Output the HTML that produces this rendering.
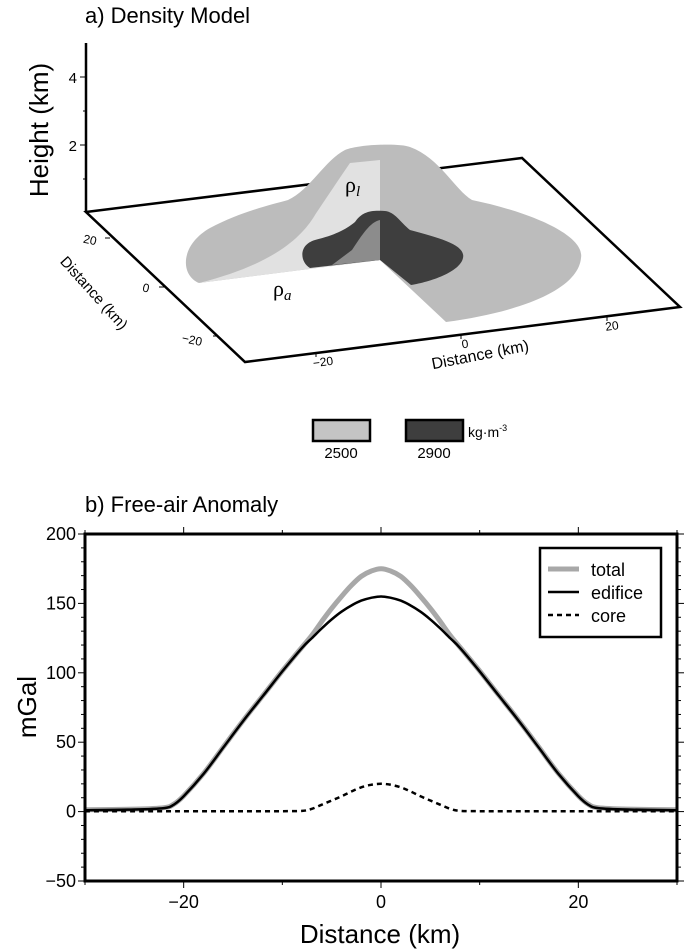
<!DOCTYPE html>
<html><head><meta charset="utf-8"><style>
html,body{margin:0;padding:0;background:#fff;}
svg{display:block;font-family:"Liberation Sans",Arial,sans-serif;}
</style></head>
<body>
<svg id="fig" width="685" height="952" viewBox="0 0 685 952">
  <text x="85" y="23" font-size="22">a) Density Model</text>
  <g>
    <polygon points="86,212 522,158 680,307 245,362" fill="none" stroke="#000" stroke-width="2.5"/>
    <line x1="86" y1="212" x2="86" y2="43" stroke="#000" stroke-width="2.5"/>
    <line x1="80" y1="77" x2="86" y2="77" stroke="#000" stroke-width="1"/>
    <line x1="80" y1="145" x2="86" y2="145" stroke="#000" stroke-width="1"/>
    <line x1="83" y1="111" x2="86" y2="111" stroke="#000" stroke-width="1"/>
    <line x1="83" y1="179" x2="86" y2="179" stroke="#000" stroke-width="1"/>
    <text x="77" y="83" font-size="15" text-anchor="end">4</text>
    <text x="77" y="151" font-size="15" text-anchor="end">2</text>
    <text transform="translate(48,130) rotate(-90)" font-size="26" text-anchor="middle">Height (km)</text>

    <path d="M199,283 C180,275 180,245 210,228 C240,212 270,205 288,200 C310,190 325,160 345,150 C360,144 400,143 410,147 C440,158 455,190 472,200 C530,212 585,235 581,258 C578,290 520,312 446,322 L380,260 L199,283 Z" fill="#bcbcbc"/>
    <path d="M199,283 L380,260 L380,160 L350,163 C335,185 325,200 315,215 C300,240 270,265 199,283 Z" fill="#e1e1e1"/>
    <path d="M310,268 C300,262 298,245 315,240 C335,235 345,230 355,222 C362,212 370,210 385,211 C395,212 400,222 410,230 C440,238 466,245 463,258 C460,272 430,282 411,285 L380,260 Z" fill="#3e3e3e"/>
    <path d="M380,260 L380,220 C370,222 362,235 352,250 L332,265 Z" fill="#8c8c8c"/>
    <text x="345" y="192" font-size="22" font-family="Liberation Serif,serif">ρ<tspan font-size="15" font-style="italic" dy="4">l</tspan></text>
    <text x="273" y="296" font-size="22" font-family="Liberation Serif,serif">ρ<tspan font-size="15" font-style="italic" dy="4">a</tspan></text>

    <line x1="110" y1="238" x2="105" y2="238" stroke="#000"/>
    <line x1="164" y1="287" x2="159" y2="287" stroke="#000"/>
    <line x1="218" y1="336" x2="213" y2="336" stroke="#000"/>
    <text x="90" y="244" font-size="12" text-anchor="middle" transform="rotate(12 90 240)">20</text>
    <text x="146" y="292" font-size="12" text-anchor="middle" transform="rotate(12 146 288)">0</text>
    <text x="192" y="344" font-size="12" text-anchor="middle" transform="rotate(12 192 340)">−20</text>
    <text x="94" y="298" font-size="15" text-anchor="middle" transform="rotate(48 94 293)">Distance (km)</text>

    <line x1="316" y1="352" x2="316" y2="357" stroke="#000"/>
    <line x1="461" y1="334" x2="461" y2="339" stroke="#000"/>
    <line x1="607" y1="316" x2="607" y2="321" stroke="#000"/>
    <text x="323" y="366" font-size="12" text-anchor="middle" transform="rotate(-8 323 362)">−20</text>
    <text x="465" y="348" font-size="12" text-anchor="middle" transform="rotate(-8 465 344)">0</text>
    <text x="612" y="330" font-size="12" text-anchor="middle" transform="rotate(-8 612 326)">20</text>
    <text x="480" y="360" font-size="16" text-anchor="middle" transform="rotate(-11 480 354)">Distance (km)</text>
  </g>
  <g>
    <rect x="313" y="420" width="57" height="21" fill="#c4c4c4" stroke="#000" stroke-width="2.5"/>
    <rect x="406" y="420" width="57" height="21" fill="#3e3e3e" stroke="#000" stroke-width="2.5"/>
    <text x="341" y="458" font-size="15" text-anchor="middle">2500</text>
    <text x="434" y="458" font-size="15" text-anchor="middle">2900</text>
    <text x="468" y="437" font-size="14">kg·m<tspan font-size="9" dy="-6">-3</tspan></text>
  </g>

  <text x="85" y="512" font-size="22">b) Free-air Anomaly</text>
  <g id="chart"></g>
</svg>
<script>
const xs = [-30,-25,-22,-21,-20,-18,-16,-14,-12,-10,-8,-7,-6,-5,-4,-3,-2,-1,0,1,2,3,4,5,6,7,8,10,12,14,16,18,20,21,22,25,30];
const edifice = [1,1.5,2.5,5,11,27,46,65,83,101,118,125,132,138.5,144,148.5,152,154,155,154,152,148.5,144,138.5,132,125,118,101,83,65,46,27,11,5,2.5,1.5,1];
const core = [0.3,0.3,0.3,0.3,0.3,0.3,0.3,0.3,0.3,0.3,0.5,2,5,8,11,14.5,17.5,19.3,20,19.3,17.5,14.5,11,8,5,2,0.5,0.3,0.3,0.3,0.3,0.3,0.3,0.3,0.3,0.3,0.3];
const total = [1.3,1.8,2.8,5.3,11.3,27.3,46.3,65.3,83.3,101.3,118.5,127,137,146.5,155,163,169.5,173.3,175,173.3,169.5,163,155,146.5,137,127,118.5,101.3,83.3,65.3,46.3,27.3,11.3,5.3,2.8,1.8,1.3];
const yTicks = [-50,0,50,100,150,200];
const xTicks = [-20,0,20];
const seriesNames = ['total','edifice','core'];

const NS = 'http://www.w3.org/2000/svg';
const g = document.getElementById('chart');
const L = 85, R = 677, T = 534, B = 881;
const xMin = -30, xMax = 30, yMin = -50, yMax = 200;
function sx(v){ return L + (v - xMin) / (xMax - xMin) * (R - L); }
function sy(v){ return B - (v - yMin) / (yMax - yMin) * (B - T); }
function mk(tag, attrs){ const e = document.createElementNS(NS, tag); for (const k in attrs) e.setAttribute(k, attrs[k]); g.appendChild(e); return e; }
function pathFor(vals){
  const p = xs.map((x,i)=>[sx(x), sy(vals[i])]);
  let d = 'M' + p[0][0].toFixed(1) + ',' + p[0][1].toFixed(1);
  for (let i = 0; i < p.length - 1; i++){
    const p0 = p[Math.max(0,i-1)], p1 = p[i], p2 = p[i+1], p3 = p[Math.min(p.length-1,i+2)];
    const c1x = p1[0] + (p2[0]-p0[0])/6, c1y = p1[1] + (p2[1]-p0[1])/6;
    const c2x = p2[0] - (p3[0]-p1[0])/6, c2y = p2[1] - (p3[1]-p1[1])/6;
    d += ' C' + c1x.toFixed(1)+','+c1y.toFixed(1)+' '+c2x.toFixed(1)+','+c2y.toFixed(1)+' '+p2[0].toFixed(1)+','+p2[1].toFixed(1);
  }
  return d;
}
for (let v = yMin; v <= yMax; v += 10){
  const major = v % 50 === 0;
  const len = major ? 7 : 4;
  mk('line',{x1:L-len,y1:sy(v),x2:L,y2:sy(v),stroke:'#000','stroke-width':1});
  mk('line',{x1:R,y1:sy(v),x2:R+len,y2:sy(v),stroke:'#000','stroke-width':1});
}
for (let v = xMin; v <= xMax; v += 10){
  const major = v % 20 === 0;
  const len = major ? 7 : 4;
  mk('line',{x1:sx(v),y1:B,x2:sx(v),y2:B+len,stroke:'#000','stroke-width':1});
  mk('line',{x1:sx(v),y1:T-len,x2:sx(v),y2:T,stroke:'#000','stroke-width':1});
}
yTicks.forEach(v=>{
  const t = mk('text',{x:L-9,y:sy(v)+6,'font-size':18,'text-anchor':'end'});
  t.textContent = v < 0 ? '\u2212' + Math.abs(v) : String(v);
  
  
});
xTicks.forEach(v=>{
  const t = mk('text',{x:sx(v),y:B+27,'font-size':18,'text-anchor':'middle'});
  t.textContent = v < 0 ? '\u2212' + Math.abs(v) : String(v);
  
  
});
const pt = mk('path',{d:pathFor(total),fill:'none',stroke:'#a8a8a8','stroke-width':5});


const pe = mk('path',{d:pathFor(edifice),fill:'none',stroke:'#000','stroke-width':2.5});


const pc = mk('path',{d:pathFor(core),fill:'none',stroke:'#000','stroke-width':2.5,'stroke-dasharray':'5,4'});


const fr = mk('rect',{x:L,y:T,width:R-L,height:B-T,fill:'none',stroke:'#000','stroke-width':3});


const lg = mk('rect',{x:540,y:548,width:121,height:89,fill:'#fff',stroke:'#000','stroke-width':2.5});


const styles = [{stroke:'#a8a8a8',w:5,dash:''},{stroke:'#000',w:2.5,dash:''},{stroke:'#000',w:2.5,dash:'5,4'}];
seriesNames.forEach((n,i)=>{
  const y = 569 + i*23;
  const l = mk('line',{x1:548,y1:y,x2:579,y2:y,stroke:styles[i].stroke,'stroke-width':styles[i].w});
  if (styles[i].dash) l.setAttribute('stroke-dasharray', styles[i].dash);
  
  
  const t = mk('text',{x:591,y:y+7,'font-size':18});
  t.textContent = n;
  
  
});
const yt = mk('text',{x:0,y:0,'font-size':26,'text-anchor':'middle',transform:'translate(36,707) rotate(-90)'});
yt.textContent = 'mGal';


const xt = mk('text',{x:380,y:943,'font-size':26,'text-anchor':'middle'});
xt.textContent = 'Distance (km)';


</script>
</body></html>
